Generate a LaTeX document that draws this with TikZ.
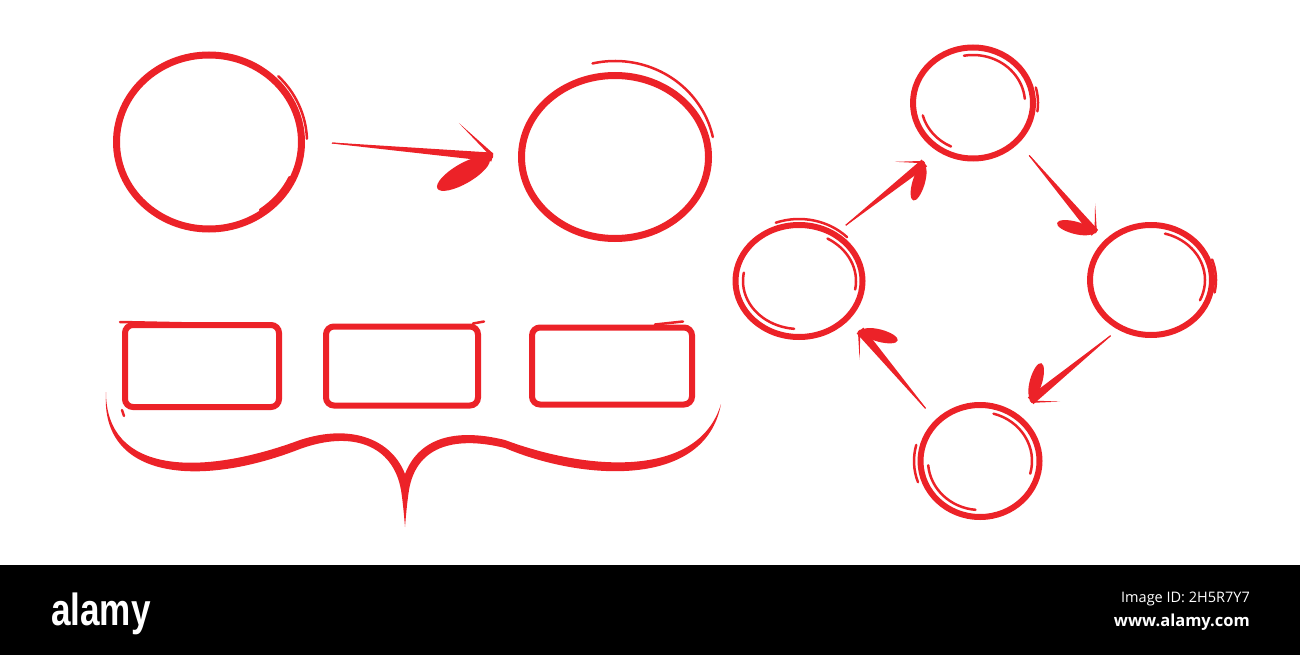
\documentclass[tikz,border=0pt]{standalone}
\usepackage{fontspec}
\setmainfont{Open Sans}
\newfontfamily\logofont{Liberation Sans}
\usetikzlibrary{shapes.geometric,positioning,calc,decorations.markings}

\definecolor{markred}{RGB}{236,34,40}

\tikzset{
  ring/.style={ellipse, draw=markred, line width=#1, inner sep=0pt},
  box/.style={rectangle, draw=markred, line width=6pt, rounded corners=8pt, inner sep=0pt},
  stroke/.style={draw=markred, line width=2.5pt, line cap=round},
  sketch arrow/.style={draw=markred, line width=1pt,
    postaction={decorate, decoration={markings, mark=at position 1 with {
      \fill[markred] (0pt,4.4pt) -- (-\pgfdecoratedpathlength,0.5pt) -- (-\pgfdecoratedpathlength,-0.5pt) -- (0pt,-4.4pt) -- cycle;
      \fill[markred, scale=#1] (1pt,3.5pt) -- (-36pt,31pt) -- (1pt,-1.5pt) -- cycle;
      \fill[markred, scale=#1, shift={(-27pt,-19pt)}, rotate=35] (0pt,0pt) ellipse [x radius=30pt, y radius=10pt];
    }}}},
}

\begin{document}
\begin{tikzpicture}[x=1pt, y=-1pt, node distance=200pt]
\tikzstyle{band text}=[text=white, inner sep=0pt]
\useasboundingbox (0,0) rectangle (1300,655);

% two rings and an arrow
\node[ring=7pt, minimum width=185pt, minimum height=174pt] (P) at (209,142) {};
\node[ring=7pt, minimum width=187pt, minimum height=163pt] (Q) [right of=P, node distance=406pt, yshift=-15pt] {};
\draw[stroke] (P.center) ++(45:98pt and 93pt) arc[start angle=45, end angle=2, x radius=98pt, y radius=93pt];
\draw[stroke] (P.center) ++(-25:89pt and 83pt) arc[start angle=-25, end angle=-55, x radius=89pt, y radius=83pt];
\draw[stroke] (Q.center) ++(103:100pt and 96pt) arc[start angle=103, end angle=12, x radius=100pt, y radius=96pt];
\draw[sketch arrow=1] ($(P.east)+(27,1)$) -- ($(Q.west)+(-26,0)$);

% three boxes and the brace
\node[box, minimum width=154pt, minimum height=82pt] (r1) at (202,366) {};
\node[box, minimum width=152pt, minimum height=79pt] (r2) [right of=r1] {};
\node[box, minimum width=160pt, minimum height=77pt] (r3) [right of=r2, node distance=210pt] {};
\draw[stroke] ([xshift=-2pt]r1.north west) -- ([xshift=-14pt,yshift=-3pt]r1.north east);
\draw[stroke] (r1.south west) -- ++(2,6);
\draw[stroke] ([xshift=-8pt]r2.north east) -- ([xshift=3pt,yshift=2pt]r2.north east);
\draw[stroke] ([xshift=-40pt]r3.north east) -- ([xshift=-12pt,yshift=3pt]r3.north east);
\fill[markred] (106,392) .. controls (100,480) and (200,488) .. (300,449)
  .. controls (352,430) and (393,445) .. (401,490)
  .. controls (403,503) and (404,515) .. (405,527)
  .. controls (406,515) and (407,503) .. (409,490)
  .. controls (416,448) and (452,435) .. (505,448)
  .. controls (580,480) and (705,490) .. (721,404)
  .. controls (698,480) and (585,470) .. (505,440)
  .. controls (452,427) and (418,440) .. (405,474)
  .. controls (392,440) and (352,423) .. (300,440)
  .. controls (200,477) and (106,474) .. (106,392) -- cycle;

% ring of four
\node[ring=6pt, minimum width=120pt, minimum height=111pt] (N) at (973,103) {};
\node[ring=6pt, minimum width=127pt, minimum height=112pt] (W) at (799,281) {};
\node[ring=6pt, minimum width=122pt, minimum height=110pt] (E) at (1151,280) {};
\node[ring=6pt, minimum width=119pt, minimum height=112pt] (S) at (980,461) {};
\foreach \n/\sa/\ea/\rx/\ry in {N/100/5/52/48, N/195/245/52/48, N/15/-8/65/60,
    W/170/265/56/48, W/60/-10/57/49, W/110/45/68/62,
    E/75/-25/54/48, E/20/-12/65/60,
    S/75/-15/52/49, S/185/265/52/49, S/200/165/66/62}
  \draw[stroke] (\n.center) ++(\sa:\rx pt and \ry pt) arc[start angle=\sa, end angle=\ea, x radius=\rx pt, y radius=\ry pt];
\draw[sketch arrow=0.62] ($(W.50)!-11pt!(W.center)$) -- ($(N.231)!-17pt!(N.center)$);
\draw[sketch arrow=0.62] ($(N.-43)!-16pt!(N.center)$) -- ($(E.140)!-12pt!(E.center)$);
\draw[sketch arrow=0.62] ($(E.-126)!-9pt!(E.center)$) -- ($(S.50)!-18pt!(S.center)$);
\draw[sketch arrow=0.62] ($(S.136)!-15pt!(S.center)$) -- ($(W.-39)!-15pt!(W.center)$);

% stock band
\fill[black] (0,565) rectangle (1300,655);
\node[band text, anchor=base west, font=\logofont\bfseries\fontsize{45}{45}\selectfont] (logo) at (51,625) {\scalebox{0.78}[1]{alamy}};
\node[band text, anchor=base east, font=\fontsize{14.5}{14.5}\selectfont] (imgid) at (1250,602) {Image ID: 2H5R7Y7};
\node[band text, anchor=base east, font=\bfseries\fontsize{16.5}{16.5}\selectfont] (site) at (1250,626) {www.alamy.com};
\end{tikzpicture}
\end{document}
